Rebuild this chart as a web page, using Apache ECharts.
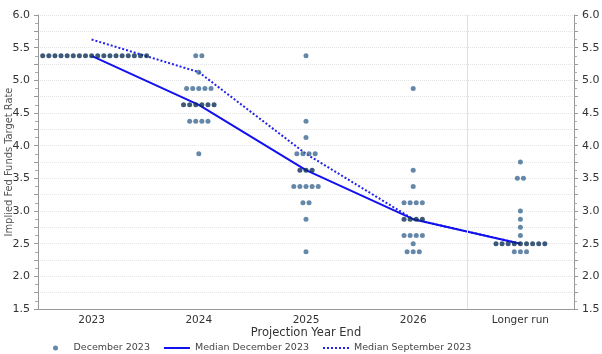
<!DOCTYPE html>
<html>
<head>
<meta charset="utf-8">
<title>Dot plot</title>
<script src="https://cdn.jsdelivr.net/npm/echarts@6/dist/echarts.min.js"></script>
<style>
  html, body { margin: 0; padding: 0; background: #fff; }
  #chart { width: 602px; height: 354px; }
</style>
</head>
<body>
<div id="chart"></div>
<script>
// 预测年份
const categories = ['2023', '2024', '2025', '2026', 'Longer run'];
// 每年的 [利率, 点数]
const dots2023 = [[5.375, 19]];
const dots2024 = [[5.375, 2], [5.125, 1], [4.875, 5], [4.625, 6], [4.375, 4], [3.875, 1]];
const dots2025 = [[5.375, 1], [4.375, 1], [4.125, 1], [3.875, 4], [3.625, 3], [3.375, 5], [3.125, 2], [2.875, 1], [2.375, 1]];
const dots2026 = [[4.875, 1], [3.625, 1], [3.375, 1], [3.125, 4], [2.875, 4], [2.625, 4], [2.5, 1], [2.375, 3]];
const dotsLongerRun = [[3.75, 1], [3.5, 2], [3.0, 1], [2.875, 1], [2.75, 1], [2.625, 1], [2.5, 9], [2.375, 3]];
// 中位数
const medianDec = [5.375, 4.625, 3.625, 2.875, 2.5];
const medianSep = [5.625, 5.125, 3.875, 2.875, 2.5];
// y 轴刻度
const yMin = 1.5;
const yMax = 6.0;

const allDots = [dots2023, dots2024, dots2025, dots2026, dotsLongerRun];
const dotGap = 0.057; // 点与点之间的水平间距（以类别宽度计）

const scatterData = [];
allDots.forEach((rows, i) => {
  rows.forEach(([rate, n]) => {
    for (let k = 0; k < n; k++) {
      const isMedian = rate === medianDec[i];
      scatterData.push({
        value: [i + (k - (n - 1) / 2) * dotGap, rate],
        itemStyle: isMedian ? { color: '#0c2f57' } : undefined,
      });
    }
  });
});

const tickLabel = (v) => (Math.abs(v * 2 - Math.round(v * 2)) < 1e-6 ? v.toFixed(1) : '');

const yAxisBase = {
  type: 'value',
  min: yMin,
  max: yMax,
  interval: 0.25,
  axisLine: { show: true, onZero: false, lineStyle: { color: '#999' } },
  axisTick: { show: true, length: 4, lineStyle: { color: '#999' } },
  minorTick: { show: true, splitNumber: 2, length: 3, lineStyle: { color: '#aaa' } },
  axisLabel: {
    formatter: tickLabel,
    color: '#333',
    fontFamily: 'DejaVu Sans',
    fontSize: 11,
    margin: 8,
  },
};

const option = {
  animation: false,
  grid: { left: 38, right: 28, top: 15, bottom: 45, containLabel: false, outerBoundsMode: 'none' },
  legend: {
    left: 48,
    top: 338,
    itemWidth: 26,
    itemHeight: 5,
    itemGap: 13,
    textStyle: { color: '#444', fontFamily: 'DejaVu Sans', fontSize: 9.5 },
    data: [
      { name: 'December 2023', icon: 'circle' },
      { name: 'Median December 2023', itemStyle: { opacity: 0 } },
      { name: 'Median September 2023', itemStyle: { opacity: 0 } },
    ],
  },
  xAxis: [
    {
      type: 'category',
      data: categories,
      boundaryGap: true,
      name: 'Projection Year End',
      nameLocation: 'middle',
      nameGap: 18,
      nameMoveOverlap: false,
      nameTextStyle: { color: '#333', fontFamily: 'DejaVu Sans', fontSize: 11.5 },
      axisLine: { lineStyle: { color: '#999' } },
      axisTick: { alignWithLabel: true, length: 4, lineStyle: { color: '#999' } },
      axisLabel: { color: '#333', fontFamily: 'DejaVu Sans', fontSize: 10.5, margin: 6 },
      splitLine: { show: false },
    },
    {
      type: 'value',
      min: -0.5,
      max: 4.5,
      show: false,
    },
  ],
  yAxis: [
    {
      ...yAxisBase,
      position: 'left',
      name: 'Implied Fed Funds Target Rate',
      nameLocation: 'middle',
      nameGap: 23,
      nameMoveOverlap: false,
      nameTextStyle: {
        color: '#555',
        fontFamily: "'Liberation Sans Narrow', 'DejaVu Sans Condensed', 'Liberation Sans', sans-serif",
        fontSize: 11,
      },
      splitLine: { show: true, lineStyle: { color: '#e4e4e4', type: 'dotted' } },
    },
    {
      ...yAxisBase,
      position: 'right',
      splitLine: { show: false },
    },
  ],
  series: [
    {
      name: 'Median September 2023',
      type: 'line',
      xAxisIndex: 0,
      data: medianSep,
      symbol: 'none',
      lineStyle: { color: '#2222ee', width: 2, type: 'dotted' },
      itemStyle: { color: '#2222ee' },
      z: 2,
    },
    {
      name: 'Median December 2023',
      type: 'line',
      xAxisIndex: 0,
      data: medianDec,
      symbol: 'none',
      lineStyle: { color: '#1111f0', width: 2 },
      itemStyle: { color: '#1111f0' },
      z: 3,
    },
    {
      name: 'December 2023',
      type: 'scatter',
      xAxisIndex: 1,
      symbolSize: 5,
      itemStyle: { color: '#3f6a94' },
      data: scatterData,
      z: 4,
      // 2026 与 Longer run 之间的分隔线
      markLine: {
        silent: true,
        symbol: 'none',
        label: { show: false },
        lineStyle: { color: '#e0e0e0', type: 'solid', width: 1 },
        data: [{ xAxis: 3.5 }],
      },
    },
  ],
};

const chart = echarts.init(document.getElementById('chart'));
chart.setOption(option);
</script>
</body>
</html>
